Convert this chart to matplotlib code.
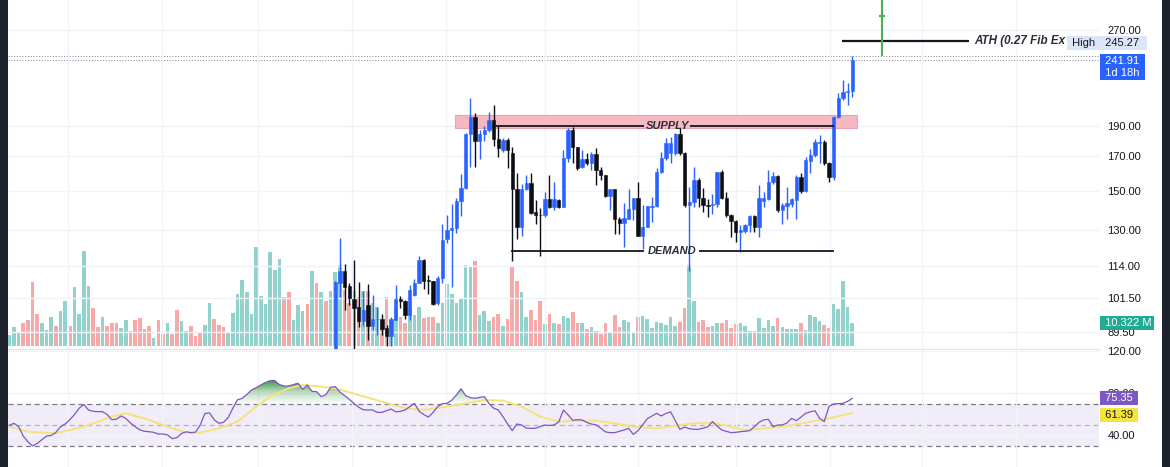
import numpy as np
import matplotlib.pyplot as plt
import matplotlib.transforms as mtransforms
from matplotlib.colors import LinearSegmentedColormap
from matplotlib.patches import Rectangle
from matplotlib.path import Path
from matplotlib.ticker import NullLocator

plt.rcParams['font.family'] = ['Liberation Sans', 'DejaVu Sans']

# --- values (bar 0 = leftmost volume bar) ---
candle_start = 70   # first candle that is inside the visible price range

opens = [82.0, 107.1, 112.1, 105.9, 101.2, 98.2, 93.3, 99.0, 91.5, 93.8,
         94.1, 91.0, 88.2, 93.7, 100.9, 100.3, 95.2, 102.4, 107.1, 116.5,
         108.5, 107.9, 99.6, 109.2, 125.6, 130.2, 131.0, 144.6, 151.3, 184.4,
         196.2, 180.0, 184.4, 187.2, 194.3, 181.5, 174.0, 180.5, 171.9, 151.0,
         131.4, 150.7, 154.4, 138.9, 137.5, 137.2, 145.3, 141.5, 144.9, 141.5,
         169.2, 187.3, 176.2, 163.3, 168.2, 165.7, 171.5, 162.1, 158.8, 147.0,
         151.0, 135.5, 133.4, 135.5, 140.1, 146.3, 127.4, 131.4, 141.5, 141.8,
         160.7, 168.8, 171.9, 171.9, 184.5, 171.9, 142.3, 144.0, 155.9, 146.3,
         142.3, 142.3, 142.7, 160.7, 146.3, 137.2, 134.3, 129.1, 129.6, 132.3,
         136.7, 131.2, 144.5, 145.7, 155.0, 158.3, 139.7, 141.8, 142.8, 144.9,
         157.9, 149.9, 167.4, 170.9, 178.8, 179.4, 165.7, 157.9, 196.6, 210.3,
         215.4, 216.2]
highs = [108.0, 126.3, 114.8, 107.1, 116.5, 107.7, 103.9, 106.9, 102.4, 98.2,
         95.8, 91.8, 94.6, 106.2, 102.0, 100.8, 106.2, 108.8, 118.3, 117.0,
         110.4, 108.1, 110.1, 132.7, 137.1, 142.8, 146.0, 159.4, 185.0, 210.3,
         199.0, 187.2, 189.9, 200.2, 205.1, 191.0, 181.6, 181.6, 176.2, 160.2,
         154.0, 158.8, 159.8, 144.9, 140.6, 149.4, 158.8, 155.0, 145.5, 174.0,
         188.4, 189.6, 176.2, 174.0, 172.3, 173.0, 175.1, 163.7, 158.8, 151.0,
         151.0, 136.4, 143.2, 150.9, 146.3, 155.0, 142.3, 141.8, 146.7, 162.7,
         172.9, 181.6, 182.7, 185.0, 188.4, 173.0, 152.2, 163.7, 156.9, 151.3,
         145.7, 148.5, 160.7, 161.7, 149.4, 138.0, 134.7, 132.3, 133.0, 137.2,
         137.2, 153.1, 149.4, 161.7, 160.7, 158.8, 143.2, 152.2, 146.3, 158.8,
         159.8, 169.8, 174.5, 181.0, 184.0, 180.5, 166.8, 197.0, 214.2, 224.9,
         222.2, 245.27]
lows = [79.0, 101.8, 97.0, 98.8, 84.3, 91.2, 91.5, 86.9, 90.1, 88.5,
        88.5, 85.0, 85.0, 93.5, 97.9, 94.1, 93.5, 102.0, 107.1, 105.0,
        103.0, 98.8, 98.8, 107.0, 124.0, 105.5, 128.7, 136.8, 150.9, 163.3,
        163.3, 168.5, 180.0, 186.0, 176.8, 169.5, 173.0, 162.7, 116.0, 125.9,
        127.4, 150.3, 138.0, 133.0, 118.4, 136.4, 140.6, 139.7, 141.0, 141.5,
        166.8, 165.7, 161.7, 162.7, 164.7, 162.1, 153.1, 155.9, 146.7, 139.7,
        128.2, 128.2, 122.1, 135.5, 134.7, 127.0, 121.4, 131.4, 133.9, 141.5,
        159.8, 167.8, 165.7, 170.9, 170.9, 141.5, 112.0, 141.5, 141.5, 138.9,
        136.4, 138.0, 141.5, 145.7, 136.4, 126.8, 124.5, 120.0, 128.5, 129.1,
        129.1, 126.8, 141.5, 144.9, 154.0, 138.9, 133.0, 135.5, 141.5, 135.5,
        148.9, 149.4, 159.8, 169.8, 165.7, 164.7, 155.0, 155.9, 195.4, 209.0,
        205.2, 211.5]
closes = [107.5, 112.1, 105.6, 101.5, 97.9, 93.3, 97.2, 91.5, 94.1, 94.1,
          90.7, 88.2, 93.8, 100.9, 100.2, 95.2, 104.3, 107.1, 116.5, 108.1,
          108.0, 99.4, 109.2, 125.3, 130.2, 131.0, 144.6, 151.3, 184.4, 196.2,
          180.0, 184.4, 187.2, 194.3, 181.5, 175.1, 180.5, 174.0, 150.7, 131.4,
          151.0, 154.4, 138.4, 137.2, 137.2, 145.3, 141.5, 145.3, 141.5, 169.2,
          187.3, 176.2, 162.7, 168.2, 165.7, 171.5, 162.1, 158.8, 147.0, 151.0,
          135.5, 133.4, 136.0, 140.1, 146.3, 127.4, 131.4, 141.8, 141.8, 160.7,
          168.8, 178.8, 178.3, 184.5, 171.9, 142.3, 144.0, 155.9, 146.3, 142.3,
          142.0, 142.7, 160.7, 146.3, 137.2, 134.3, 129.1, 130.0, 132.3, 136.7,
          131.2, 146.3, 146.3, 155.0, 158.3, 139.7, 142.3, 143.2, 145.7, 157.9,
          149.9, 167.8, 170.9, 179.4, 179.4, 165.7, 157.9, 196.6, 210.3, 214.7,
          216.2, 241.91]

# volume in millions
volumes = [4.9, 8.7, 6.1, 10.5, 11.7, 28.9, 14.4, 10.5, 7.2, 13.2,
           9.0, 15.7, 20.2, 9.0, 26.3, 14.4, 42.7, 26.9, 16.9, 8.4,
           13.2, 9.0, 10.2, 10.2, 8.2, 11.7, 6.7, 11.7, 12.4, 7.8,
           9.0, 3.7, 11.7, 5.4, 10.2, 5.4, 16.2, 11.2, 6.7, 9.0,
           4.5, 6.4, 9.4, 19.5, 12.3, 9.4, 8.4, 5.7, 15.0, 23.3,
           29.5, 24.4, 14.4, 44.5, 22.5, 18.9, 42.1, 34.1, 39.2, 21.9,
           24.2, 11.7, 18.4, 15.7, 18.9, 33.8, 28.4, 24.2, 20.1, 24.8,
           33.4, 36.4, 25.1, 19.2, 24.8, 21.9, 24.8, 24.8, 19.2, 17.4,
           11.7, 21.9, 11.7, 16.9, 13.2, 10.2, 16.9, 13.9, 17.4, 12.4,
           12.9, 12.9, 10.2, 19.2, 27.7, 23.4, 19.2, 21.4, 36.4, 35.9,
           38.2, 13.9, 15.7, 11.2, 13.2, 14.2, 9.1, 12.1, 35.6, 29.3,
           24.4, 13.2, 16.2, 11.7, 20.2, 9.9, 14.4, 10.5, 9.9, 13.5,
           12.4, 15.4, 10.5, 10.5, 7.5, 8.7, 6.9, 5.2, 10.5, 6.4,
           13.9, 8.4, 11.7, 10.9, 6.4, 12.9, 13.5, 12.1, 7.9, 10.8,
           10.5, 9.4, 13.2, 9.0, 10.8, 16.9, 36.4, 20.4, 10.9, 11.7,
           8.7, 9.0, 10.2, 10.2, 11.7, 7.9, 9.9, 10.2, 9.0, 6.9,
           6.9, 12.4, 7.9, 11.7, 9.0, 12.4, 8.4, 7.6, 7.5, 7.5,
           10.5, 7.2, 13.9, 12.9, 11.4, 9.4, 7.9, 18.7, 16.6, 29.3,
           17.7, 10.322]
# up/down of the bars left of the first visible candle
vol_dir_early = ("uuudddduuu" "duuduuuudd" "uddduudddd" "duddudduud"
                 "dduuddduuu" "uuuuuuuuud" "duuudududu")

rsi = [49.7, 51.6, 48.4, 39.5, 34.0, 30.0, 32.5, 36.0, 39.5, 40.0,
       43.0, 48.4, 51.0, 55.0, 60.0, 66.0, 69.5, 64.3, 63.0, 62.7,
       62.7, 60.0, 55.0, 55.5, 58.6, 56.3, 52.0, 48.5, 45.5, 44.0,
       43.6, 43.0, 41.4, 41.4, 40.5, 37.0, 38.0, 42.0, 43.5, 42.7,
       43.2, 50.0, 61.0, 61.5, 55.0, 51.6, 52.5, 57.0, 66.0, 74.0,
       75.4, 79.0, 83.3, 85.5, 88.0, 90.5, 92.2, 92.2, 88.5, 87.1,
       87.1, 88.5, 89.7, 84.0, 88.1, 82.0, 81.7, 77.0, 79.0, 85.9,
       86.5, 81.5, 78.0, 74.5, 70.5, 67.0, 64.5, 64.3, 64.3, 62.0,
       62.0, 63.6, 65.2, 62.5, 63.0, 64.3, 67.5, 70.6, 63.0, 60.0,
       57.5, 62.0, 67.5, 70.3, 70.6, 73.5, 78.5, 84.5, 78.0, 76.0,
       75.4, 76.2, 77.0, 70.6, 66.0, 64.3, 58.0, 51.0, 44.6, 51.0,
       50.0, 47.0, 46.8, 46.8, 48.5, 50.0, 49.5, 50.0, 53.0, 64.3,
       59.5, 54.5, 55.0, 54.8, 52.5, 50.9, 50.2, 47.0, 43.5, 42.7,
       42.7, 44.0, 45.2, 46.8, 41.0, 44.5, 50.0, 56.0, 58.5, 61.1,
       58.6, 61.0, 62.5, 54.1, 45.9, 48.0, 46.5, 45.9, 45.9, 47.0,
       48.4, 53.2, 49.0, 45.2, 44.0, 42.7, 43.0, 43.6, 44.0, 44.6,
       48.4, 52.5, 54.8, 55.4, 48.4, 50.0, 50.0, 52.0, 56.3, 54.1,
       57.5, 61.1, 62.5, 63.6, 56.3, 53.2, 67.5, 70.0, 70.3, 70.6,
       72.5, 75.35]
rsi_ma_bars = [0, 4, 10, 16, 22, 25, 29, 34, 38, 41, 45, 49, 53, 56, 60, 63, 67,
               70, 75, 80, 85, 89, 94, 99, 102, 106, 110, 114, 118, 123, 126,
               130, 134, 139, 144, 147, 151, 155, 158, 162, 166, 171, 176, 181]
rsi_ma = [48.4, 43.6, 42.1, 48.4, 57.9, 61.1, 56.3, 48.4, 42.7, 42.7, 46.8,
          53.2, 67.5, 77.0, 84.9, 88.1, 86.5, 84.9, 78.6, 72.2, 65.9, 64.3,
          67.5, 71.3, 73.8, 73.2, 67.5, 57.9, 53.2, 54.1, 54.1, 51.6, 48.4,
          46.8, 50.0, 51.6, 52.2, 48.4, 45.2, 46.8, 48.4, 52.2, 56.3, 61.39]

price_ticks = [270, 190, 170, 150, 130, 114, 101.5, 89.5]
rsi_ticks = [120, 80, 40]
time_grid = [12.6, 32.8, 53.4, 73.6, 93.8, 115.1, 135.0, 156.1, 176.3, 196.0, 216.2]

# drawings on the chart (bar index, price)
supply_zone = (95.7, 182.1, 188.6, 197.8)
supply_level, supply_segments, supply_label_at = 189.9, [(103.6, 136.2), (146.2, 177.0)], 141.3
demand_level, demand_segments, demand_label_at = 120.4, [(107.8, 136.2), (148.0, 177.0)], 142.4
ath_level, ath_span = 259.4, (178.8, 206.1)
ath_label = 'ATH (0.27 Fib Ex'   # the rest of the label is hidden behind the price scale tag
marker_bar, marker_price = 187.4, 284.2
high_price, last_price = 245.27, 241.91
last_volume = 10.322
rsi_last, rsi_ma_last = 75.35, 61.39

UP, DOWN = '#2962ff', '#0c0e15'
VOL_UP, VOL_DOWN = '#92d2cc', '#f7a9a7'
GRID = '#f0f3fa'
TEXT = '#131722'

W, H = 1170, 467
fig = plt.figure(figsize=(W / 100, H / 100), dpi=100)
fig.patch.set_facecolor('white')


def add_px_axes(left, top, right, bottom):
    return fig.add_axes([left / W, 1 - bottom / H, (right - left) / W, (bottom - top) / H])


axv = add_px_axes(8, 0, 1099, 349)
ax = add_px_axes(8, 0, 1099, 349)
axr = add_px_axes(8, 350, 1099, 467)

bars = np.arange(len(volumes))
xlim = (-0.28, 234.0)

# --- volume ---
o, h, l, c = map(np.array, (opens, highs, lows, closes))
up = c >= o
cbars = np.arange(candle_start, candle_start + len(opens))
vol_up = [ch == 'u' for ch in vol_dir_early] + list(up)
axv.bar(bars, volumes, width=0.78, color=[VOL_UP if u else VOL_DOWN for u in vol_up], zorder=2)
axv.set_xlim(*xlim)
axv.set_ylim(-1.35, 155.3)
axv.axis('off')

# --- price ---
ax.set_yscale('log')
ax.patch.set_visible(False)
ccol = [UP if u else DOWN for u in up]
ax.add_patch(Rectangle((supply_zone[0], supply_zone[2]), supply_zone[1] - supply_zone[0],
                       supply_zone[3] - supply_zone[2], fc='#f7b9c1', ec='#e8a3ac', lw=0.8, zorder=2))
ax.vlines(cbars, l, h, colors=ccol, lw=1.0, zorder=3)
ax.bar(cbars, np.abs(c - o), bottom=np.minimum(o, c), width=0.72, color=ccol,
       edgecolor=ccol, lw=0.4, zorder=4)

for a, b in supply_segments:
    ax.hlines(supply_level, a, b, color=TEXT, lw=1.3, zorder=5)
ax.text(supply_label_at, supply_level, 'SUPPLY', ha='center', va='center', fontsize=8,
        style='italic', weight='bold', color='#2a2e39', zorder=6)
for a, b in demand_segments:
    ax.hlines(demand_level, a, b, color=TEXT, lw=1.3, zorder=5)
ax.text(demand_label_at, demand_level, 'DEMAND', ha='center', va='center', fontsize=8,
        style='italic', weight='bold', color='#2a2e39', zorder=6)

ax.hlines(ath_level, *ath_span, color=TEXT, lw=1.6, zorder=5)
ax.text(ath_span[1] + 1.2, ath_level, ath_label, ha='left', va='center',
        fontsize=8.4, style='italic', weight='bold', color='#2a2e39', zorder=6, clip_on=True)

ax.axhline(high_price, color='#9598a1', lw=0.8, ls=(0, (1, 1.5)), zorder=1)
ax.axhline(last_price, color='#9598a1', lw=0.8, ls=(0, (1, 1.5)), zorder=1)
ax.vlines(marker_bar, high_price, 400, color='#4caf50', lw=1.5, zorder=5)
ax.plot(marker_bar, marker_price, marker='_', ms=5, mew=1.5, color='#4caf50', zorder=6)

ax.set_xlim(*xlim)
ax.set_ylim(84.2, 300.9)
ax.set_xticks(time_grid)
ax.tick_params(axis='x', length=0, labelbottom=False)
ax.yaxis.tick_right()
ax.set_yticks(price_ticks, labels=[f'{t:.2f}' for t in price_ticks])
ax.yaxis.set_minor_locator(NullLocator())
ax.tick_params(axis='y', length=0, pad=6, labelsize=8, labelcolor=TEXT)
ax.grid(True, color=GRID, lw=1, zorder=0)
for side in ('top', 'left', 'right'):
    ax.spines[side].set_visible(False)
ax.spines['bottom'].set_color('#e0e3eb')

# --- RSI ---
rsi_arr = np.array(rsi)
axr.axhspan(30, 70, color='#7e57c2', alpha=0.1, lw=0, zorder=0)
for lvl, alpha in ((70, 1.0), (50, 0.5), (30, 1.0)):
    axr.axhline(lvl, color='#787b86', alpha=alpha, lw=0.9, ls=(0, (4, 3)), zorder=1)
over = axr.fill_between(bars, 70, rsi_arr, where=rsi_arr > 70, interpolate=True,
                        facecolor='none', edgecolor='none')
green = LinearSegmentedColormap.from_list('ob', [(0.25, 0.62, 0.29, 0.0),
                                                 (0.25, 0.62, 0.29, 0.35),
                                                 (0.22, 0.58, 0.27, 1.0)])
img = axr.imshow(np.linspace(0, 1, 256).reshape(-1, 1), cmap=green, origin='lower', aspect='auto',
                 extent=(bars[0], bars[-1], 70, 92), zorder=2, interpolation='bilinear')
img.set_clip_path(Path.make_compound_path(*over.get_paths()), transform=axr.transData)
axr.plot(rsi_ma_bars, rsi_ma, color='#f5e27a', lw=1.4, zorder=3)
axr.plot(bars, rsi_arr, color='#7e57c2', lw=0.9, zorder=4)

axr.set_xlim(*xlim)
axr.set_ylim(10, 121.4)
axr.set_xticks(time_grid)
axr.tick_params(axis='x', length=0, labelbottom=False)
axr.yaxis.tick_right()
axr.set_yticks(rsi_ticks, labels=[f'{t:.2f}' for t in rsi_ticks])
axr.tick_params(axis='y', length=0, pad=6, labelsize=8, labelcolor=TEXT)
axr.grid(True, color=GRID, lw=1, zorder=0)
for side in axr.spines:
    axr.spines[side].set_visible(False)


# --- value tags on the scale ---
def value_tag(axis, value, text, face, fg='white', x_px=1102, dy_px=0, ha='left', ytrans=None):
    base = mtransforms.blended_transform_factory(fig.transFigure,
                                                 ytrans if ytrans is not None else axis.transData)
    shift = mtransforms.ScaledTranslation(0, dy_px / fig.dpi, fig.dpi_scale_trans)
    axis.text(x_px / W, value, text, transform=base + shift, ha=ha, va='center', fontsize=8,
              color=fg, zorder=10, clip_on=False, linespacing=1.25,
              bbox=dict(boxstyle='square,pad=0.18', fc=face, ec='none'))


value_tag(ax, high_price, ' High ', '#dbe6f8', fg=TEXT, x_px=1098, dy_px=13, ha='right')
value_tag(ax, high_price, ' 245.27  ', '#dbe6f8', fg=TEXT, dy_px=13)
value_tag(ax, last_price, ' 241.91 \n 1d 18h ', '#2962ff', dy_px=-7)
value_tag(ax, last_volume, ' 10.322 M', '#22ab94', ytrans=axv.transData)
value_tag(axr, rsi_ma_last, ' 61.39 ', '#f5e43d', fg=TEXT, dy_px=-1.5)
value_tag(axr, rsi_last, ' 75.35 ', '#7e57c2')

# dark frame strips of the screenshot
for x0, wd in ((0, 8), (1162, 8)):
    fig.add_artist(Rectangle((x0 / W, 0), wd / W, 1, transform=fig.transFigure,
                             fc='#1e222d', ec='none', zorder=50))

fig.savefig('out.png', dpi=100)
